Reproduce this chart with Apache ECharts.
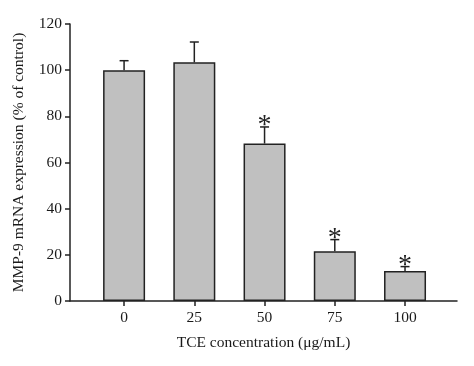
<!DOCTYPE html>
<html><head><meta charset="utf-8">
<script src="https://cdn.jsdelivr.net/npm/echarts@6/dist/echarts.min.js"></script>
<style>html,body{margin:0;padding:0;background:#fff}#c{width:474px;height:366px}</style>
</head><body><div id="c"></div>
<script>
const categories = ['0', '25', '50', '75', '100'];
const means = [100, 103.4, 68.2, 21.5, 13.0];
const errors = [4.1, 8.8, 7.2, 5.1, 1.9];
const marks = ['', '', '*', '*', '*'];
const yTicks = [0, 20, 40, 60, 80, 100, 120];

const font = '"Liberation Serif", "DejaVu Serif", serif';
const chart = echarts.init(document.getElementById('c'));
const idx = categories.map((_, i) => i);
chart.setOption({
  animation: false,
  backgroundColor: '#fff',
  grid: { left: 70, right: 17, top: 24, bottom: 65 },
  xAxis: {
    type: 'value', min: -0.77, max: 4.74,
    splitLine: { show: false },
    axisLine: { onZero: false, lineStyle: { color: '#222', width: 1.5 } },
    axisTick: { show: true, customValues: idx, length: 5, lineStyle: { color: '#222', width: 1.5 } },
    axisLabel: { customValues: idx, formatter: v => categories[Math.round(v)], color: '#1a1a1a', fontFamily: font, fontSize: 15.5, margin: 9 },
    name: 'TCE concentration (\u03bcg/mL)', nameLocation: 'middle', nameGap: 34,
    nameTextStyle: { color: '#1a1a1a', fontFamily: font, fontSize: 15.5 }
  },
  yAxis: {
    type: 'value', min: 0, max: 120, interval: 20,
    splitLine: { show: false },
    axisLine: { show: true, onZero: false, lineStyle: { color: '#222', width: 1.5 } },
    axisTick: { show: true, length: 5, lineStyle: { color: '#222', width: 1.5 } },
    axisLabel: { color: '#1a1a1a', fontFamily: font, fontSize: 15.5, margin: 8, formatter: v => yTicks.includes(v) ? String(v) : '' },
    name: 'MMP-9 mRNA expression (% of control)', nameLocation: 'middle', nameGap: 43,
    nameTextStyle: { color: '#1a1a1a', fontFamily: font, fontSize: 15.5 }
  },
  series: [
    {
      type: 'bar', barWidth: 42,
      data: means.map((v, i) => [i, v]),
      itemStyle: { color: '#c0c0c0', borderColor: '#222', borderWidth: 1.5 }
    },
    {
      type: 'custom',
      data: means.map((v, i) => [i, v, v + errors[i]]),
      renderItem: function (params, api) {
        const x = api.value(0);
        const base = api.coord([x, api.value(1)]);
        const top = api.coord([x, api.value(2)]);
        const children = [
          { type: 'line', shape: { x1: base[0], y1: base[1], x2: top[0], y2: top[1] }, style: { stroke: '#222', lineWidth: 1.5 } },
          { type: 'line', shape: { x1: top[0] - 4.5, y1: top[1], x2: top[0] + 4.5, y2: top[1] }, style: { stroke: '#222', lineWidth: 1.5 } }
        ];
        const m = marks[params.dataIndex];
        if (m) {
          children.push({ type: 'text', style: { text: m, x: top[0], y: top[1] + 13, textAlign: 'center', textVerticalAlign: 'bottom', fontSize: 28, fontFamily: font, fill: '#222' } });
        }
        return { type: 'group', children: children };
      },
      z: 3
    }
  ]
});
</script></body></html>
